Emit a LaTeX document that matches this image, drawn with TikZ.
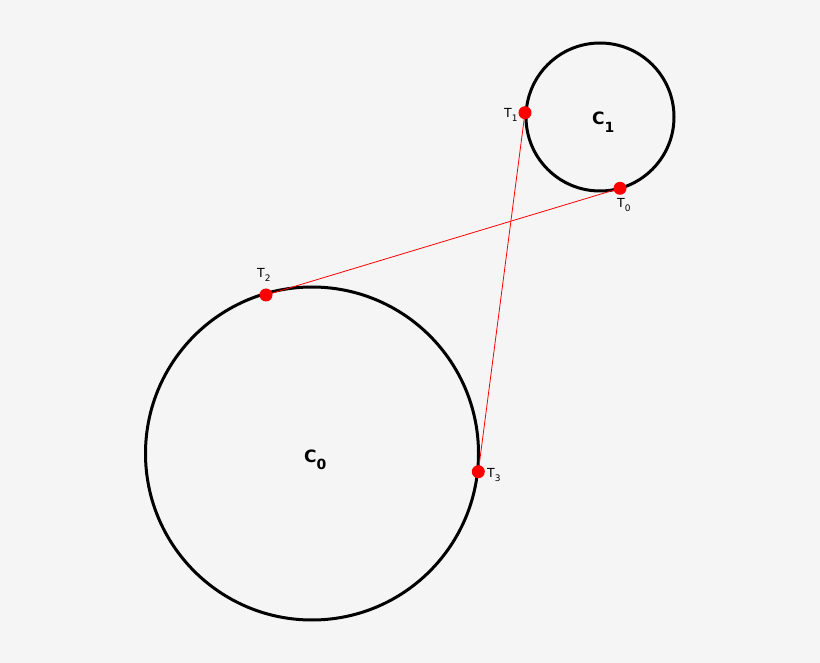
\documentclass[tikz,border=0pt]{standalone}
\usepackage{fontspec}
\setmainfont{DejaVu Sans}
\definecolor{bgcol}{RGB}{245,245,245}
\newcommand{\tsub}[1]{\raisebox{-4pt}{\fontsize{9}{9}\selectfont #1}}
\newcommand{\csub}[1]{\raisebox{-7.5pt}{\fontsize{14}{14}\selectfont\bfseries #1}}

\begin{document}
\begin{tikzpicture}[x=1pt,y=-1pt,
  tlab/.style={inner sep=0pt,anchor=base west,font=\fontsize{12.5}{12.5}\selectfont},
  clab/.style={inner sep=0pt,anchor=base west,font=\fontsize{17}{17}\selectfont\bfseries},
  ring/.style={line width=3pt,black},
  tline/.style={red,line width=0.8pt},
  dot/.style={fill=red}]
   \fill[bgcol] (0,0) rectangle (820,663);
   % the two circles
   \coordinate (c0) at (312,453.5);
   \coordinate (c1) at (600,117);
   \draw[ring] (c0) circle (166.5pt);
   \draw[ring] (c1) circle (74pt);
   % tangent points
   \coordinate (t0) at (620,188.3);
   \coordinate (t1) at (525,112.7);
   \coordinate (t2) at (266,295);
   \coordinate (t3) at (478.3,471.7);
   \draw[tline] (t2) -- (t0);
   \draw[tline] (t1) -- (t3);
   \foreach \p in {t0,t1,t2,t3}
     \fill[dot] (\p) circle (6.5pt);
   % labels
   \node[tlab] (l0) at (617,208) {T\tsub{0}};
   \node[tlab] (l1) at (504,118) {T\tsub{1}};
   \node[tlab] (l2) at (257,278) {T\tsub{2}};
   \node[tlab] (l3) at (487,477) {T\tsub{3}};
   \node[clab] (n0) at (304,462) {C\csub{0}};
   \node[clab] (n1) at (592,125) {C\csub{1}};
\end{tikzpicture}
\end{document}
